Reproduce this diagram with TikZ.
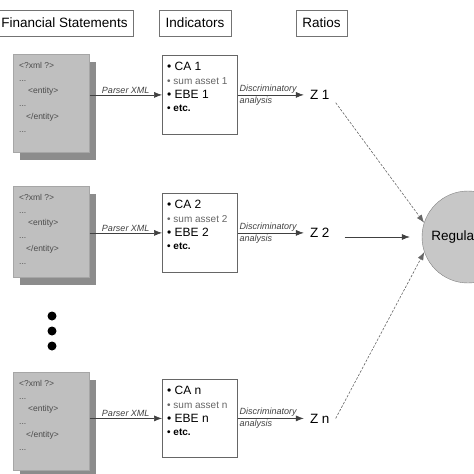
\documentclass[tikz,border=0pt]{standalone}
\usepackage{fontspec}
\setmainfont{Liberation Sans}
\usetikzlibrary{arrows.meta,positioning}
\tikzset{header box/.style={draw=black!55,line width=0.8pt,minimum height=26pt,inner sep=0pt,font=\fontsize{13.5}{15}\selectfont},
	page shadow/.style={fill=black!45,minimum width=76pt,inner sep=0pt,anchor=north west},
	xml page/.style={fill=black!25,draw=black!35,line width=0.5pt,minimum width=76pt,inner sep=0pt,anchor=north west},
	xml text/.style={anchor=north west,align=left,inner sep=0pt,text=black!70,font=\fontsize{8.5}{12.8}\selectfont},
	indicator box/.style={draw=black!60,line width=0.8pt,fill=white,minimum width=75pt,inner sep=0pt,anchor=north west},
	indicator text/.style={anchor=north west,align=left,inner sep=0pt,font=\fontsize{12}{13.8}\selectfont},
	ratio label/.style={anchor=west,inner xsep=6pt,inner ysep=3pt,font=\fontsize{13.5}{15}\selectfont},
	arrow label/.style={inner sep=1.5pt,text=black!75,font=\itshape\fontsize{9}{10}\selectfont},
	flow arrow/.style={-{Latex[length=8pt,width=6pt]},draw=black!75,line width=0.6pt}}

\begin{document}
\begin{tikzpicture}[x=1pt,y=-1pt]
	\useasboundingbox (0,0) rectangle (474,474);
	
	\node (fs)	[header box,minimum width=137pt]	at	(64.5,23)	{Financial Statements};
	\node (ih)	[header box,minimum width=72pt]		at	(195,23)	{Indicators};
	\node (rh)	[header box,minimum width=51pt]		at	(321.5,23)	{Ratios};
	
	% one row per statement
	\foreach \r/\pt/\ph/\bt/\bh/\n in {1/54/98/55/79/1, 2/186/91/193/79/2, 3/372/98/379/78/n} {
		\node		[page shadow,minimum height=\ph pt]	at	(20,\pt+8)	{};
		\node (page\r)	[xml page,minimum height=\ph pt]	at	(13,\pt)	{};
		\node		[xml text]	at	([shift={(6pt,-8pt)}]page\r.north west)	{<?xml ?>\\...\\\hspace{9pt}<entity>\\...\\\hspace{7pt}</entity>\\...};
		
		\node (ind\r)	[indicator box,minimum height=\bh pt]	at	(162,\bt)	{};
		\node		[indicator text]	at	([shift={(5pt,-7pt)}]ind\r.north west)	{• CA \n\\{\fontsize{10}{13.8}\selectfont\color{black!60}• sum asset \n}\\• EBE \n\\{\fontsize{10}{13.8}\selectfont\bfseries • etc.}};
		\node (z\r)	[ratio label,right=66pt of ind\r]	{Z \n};
		
		\draw [flow arrow] (page\r.east |- ind\r.west) -- node [arrow label,above] {Parser XML} (ind\r.west);
		\draw [flow arrow] (ind\r.east) -- node [arrow label,pos=0,above right] {Discriminatory} node [arrow label,pos=0,below right] {analysis} (z\r.west);
	}
	
	\foreach \y in {316,331,346} \fill (52,\y) circle (4.5);
	
	\node (reg)	[circle,fill=black!22,draw=black!50,minimum size=92pt,inner sep=0pt]	at	(468,237)	{};
	\node [anchor=west,font=\fontsize{13.5}{15}\selectfont]	at	([xshift=6pt]reg.west)	{Regula};
	
	\draw [flow arrow,draw=black!60,dashed,dash pattern=on 2.5pt off 1.5pt] (z1.south east) -- (reg.162);
	\draw [flow arrow,shorten <=9pt,shorten >=12pt] (reg.west -| z2.east) -- (reg.west);
	\draw [flow arrow,draw=black!60,dashed,dash pattern=on 2.5pt off 1.5pt] (z3.east) -- (reg.199);
\end{tikzpicture}
\end{document}
